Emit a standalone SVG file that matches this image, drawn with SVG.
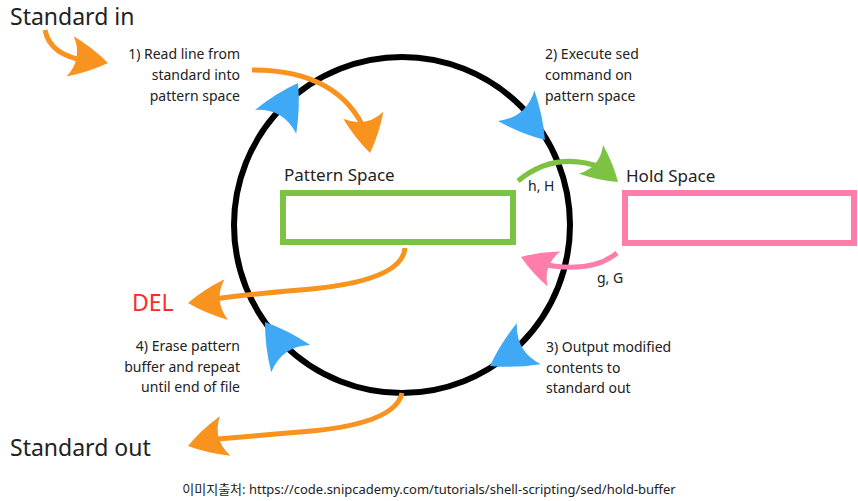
<svg xmlns="http://www.w3.org/2000/svg" width="858" height="501" viewBox="0 0 858 501">
<style>
text{font-family:"Noto Sans","Open Sans",sans-serif;fill:#222}
.s{font-size:14px}.b{font-size:23px}.m{font-size:17px}
.o{stroke:#f7931e;fill:none;stroke-width:5}
</style>
<defs><path id="h" d="M0,0 Q-14,-10 -32,-17 Q-21,0 -32,17 Q-14,10 0,0 Z"/></defs>
<rect width="858" height="501" fill="#fff"/>
<g id="cycle"><circle cx="402" cy="225" r="168" fill="none" stroke="#000" stroke-width="6"/>
<g fill="#3fa9f5">
<use href="#h" transform="translate(298,83) rotate(-60) scale(1.4)"/>
<use href="#h" transform="translate(545,140) rotate(50) scale(1.4)"/>
<use href="#h" transform="translate(490,366) rotate(150) scale(1.4)"/>
<use href="#h" transform="translate(265,322) rotate(-125) scale(1.4)"/>
</g></g>
<g id="pattern"><rect x="283" y="193" width="230" height="49" fill="none" stroke="#7dc242" stroke-width="6"/><text class="m" x="284" y="181">Pattern Space</text></g>
<g id="hold"><rect x="625" y="193" width="229" height="50" fill="none" stroke="#ff7daa" stroke-width="6"/><text class="m" x="626" y="182">Hold Space</text></g>
<g id="connectors">
<path class="o" d="M45,30 Q50,56 88,61"/><use href="#h" fill="#f7931e" transform="translate(108,63) rotate(10) scale(1.2)"/>
<path class="o" d="M252,70 Q340,70 366,133"/><use href="#h" fill="#f7931e" transform="translate(370,153) rotate(80) scale(1.2)"/>
<path class="o" d="M405,248 Q402,282 300,290 Q240,295 208,300"/><use href="#h" fill="#f7931e" transform="translate(188,303) rotate(175) scale(1.2)"/>
<path class="o" d="M402,393 Q395,425 300,432 Q240,437 208,440"/><use href="#h" fill="#f7931e" transform="translate(188,446) rotate(165) scale(1.2)"/>
<path d="M518,181 Q555,150 603,168" stroke="#7dc242" stroke-width="5" fill="none"/><use href="#h" fill="#7dc242" transform="translate(618,182) rotate(40) scale(1.1)"/>
<path d="M617,253 Q590,275 537,263" stroke="#ff7daa" stroke-width="5" fill="none"/><use href="#h" fill="#ff7daa" transform="translate(521,257) rotate(200) scale(1.1)"/>
</g>
<g id="labels">
<text class="b" x="10" y="25">Standard in</text>
<text class="s" text-anchor="end"><tspan x="240" y="59">1) Read line from</tspan><tspan x="240" y="80">standard into</tspan><tspan x="240" y="101">pattern space</tspan></text>
<text class="s"><tspan x="545" y="59">2) Execute sed</tspan><tspan x="545" y="80">command on</tspan><tspan x="545" y="101">pattern space</tspan></text>
<text class="s" x="528" y="191">h, H</text>
<text class="s" x="597" y="283">g, G</text>
<text class="b" x="132" y="311" style="fill:#ff2a2a">DEL</text>
<text class="s" text-anchor="end"><tspan x="240" y="351">4) Erase pattern</tspan><tspan x="240" y="372">buffer and repeat</tspan><tspan x="240" y="392">until end of file</tspan></text>
<text class="s"><tspan x="546" y="352">3) Output modified</tspan><tspan x="546" y="373">contents to</tspan><tspan x="546" y="393">standard out</tspan></text>
<text class="b" x="10" y="456">Standard out</text>
<text x="429" y="494" text-anchor="middle" style="font-family:'Noto Sans','Noto Sans CJK KR',sans-serif;font-size:13px">이미지출처: https://code.snipcademy.com/tutorials/shell-scripting/sed/hold-buffer</text>
</g>
</svg>
